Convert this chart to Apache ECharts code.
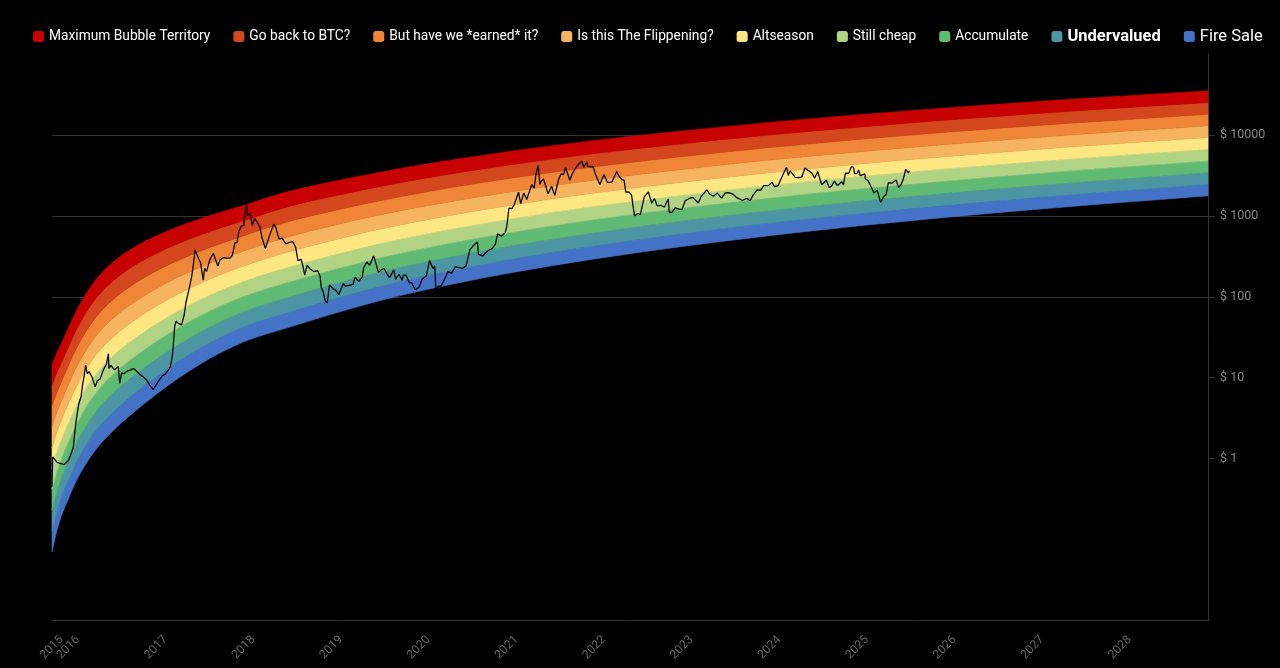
<!DOCTYPE html>
<html><head><meta charset="utf-8">
<script src="https://cdn.jsdelivr.net/npm/echarts@6/dist/echarts.min.js"></script>
<style>html,body{margin:0;padding:0;background:#000;}#chart{width:1280px;height:668px;}</style>
</head><body><div id="chart"></div>
<script>
// Legend / band names, top to bottom
const bandNames = ['Maximum Bubble Territory','Go back to BTC?','But have we *earned* it?','Is this The Flippening?','Altseason','Still cheap','Accumulate','Undervalued','Fire Sale'];
const bandColors = ['#c70000','#d4461d','#ef8537','#f6b461','#fde783','#b0d483','#5fbb74','#4b96a2','#4472c6'];

// Dates at which the band boundaries were read
const bandDates = ['2015-10-25','2015-11-10','2015-12-01','2016-01-01','2016-02-01','2016-03-15','2016-05-01','2016-07-01','2016-10-01','2017-01-01','2017-07-01','2018-01-01','2018-07-01','2019-01-01','2019-07-01','2020-01-01','2021-01-01','2022-01-01','2023-01-01','2024-01-01','2025-01-01','2027-01-01','2029-01-01'];
// Boundary prices (USD), bottom (b0) to top (b9)
const b0 = [0.0703,0.114,0.187,0.316,0.513,0.867,1.365,2.143,3.776,6.223,14.55,27.73,41.30,60.81,86.30,116.7,193.6,293.1,417.8,568.9,748.2,1194,1766];
const b1 = [0.127,0.201,0.323,0.542,0.877,1.486,2.339,3.656,6.353,10.28,23.07,42.66,63.53,92.47,129.7,173.8,284.4,426.6,602.6,814.7,1064,1679,2460];
const b2 = [0.231,0.356,0.557,0.933,1.503,2.541,4.000,6.237,10.69,16.94,36.48,65.77,97.72,140.6,195.0,258.8,417.8,619.4,867.0,1164,1510,2360,3428];
const b3 = [0.419,0.630,0.964,1.603,2.570,4.355,6.855,10.64,17.99,27.99,57.81,101.2,150.0,213.3,293.1,385.5,613.8,901.6,1250,1667,2148,3319,4786];
const b4 = [0.759,1.112,1.663,2.754,4.406,7.447,11.72,18.16,30.27,46.24,91.62,156.0,230.7,324.3,440.6,574.1,901.6,1312,1803,2382,3055,4667,6668];
const b5 = [1.374,1.963,2.877,4.742,7.534,12.76,20.09,30.97,50.93,76.38,145.2,239.9,354.8,493.3,662.2,857.0,1327,1910,2600,3412,4345,6561,9290];
const b6 = [2.489,3.467,4.977,8.147,12.88,21.83,34.36,52.84,85.70,125.9,229.6,369.0,545.8,749.9,993.1,1276,1950,2773,3741,4887,6166,9226,12942];
const b7 = [4.508,6.124,8.590,14.00,22.08,37.41,58.88,90.16,144.2,208.0,363.9,568.9,839.5,1140,1493,1901,2864,4036,5395,6982,8770,12972,18030];
const b8 = [8.185,10.84,14.86,24.10,37.76,63.97,100.7,153.8,242.7,343.6,576.8,875.0,1288,1730,2244,2831,4207,5875,7780,10000,12474,18239,25177];
const b9 = [14.83,19.14,25.64,41.40,64.71,109.6,172.2,262.4,408.3,566.2,912.0,1349,1982,2630,3373,4217,6180,8531,11194,14289,17701,25645,35075];

// Price line (USD)
const ethPrice = [
['2015-10-25',0.45],['2015-10-28',1.05],['2015-11-05',0.98],['2015-11-15',0.90],['2015-12-01',0.87],['2015-12-15',0.84],
['2016-01-01',0.95],['2016-01-15',1.20],['2016-01-22',1.40],['2016-01-29',2.26],['2016-02-03',3.0],['2016-02-14',4.8],['2016-02-23',5.8],
['2016-03-01',8.4],['2016-03-07',10.5],['2016-03-13',14.3],['2016-03-20',11.2],['2016-03-27',11.9],['2016-04-08',10.3],['2016-04-22',7.7],
['2016-05-01',9.2],['2016-05-12',9.6],['2016-05-26',12.5],['2016-06-08',14.8],['2016-06-16',19.8],['2016-06-18',13.0],['2016-06-26',14.2],
['2016-07-12',12.5],['2016-07-27',13.8],['2016-08-02',8.5],['2016-08-10',11.5],['2016-08-20',11.2],['2016-09-01',12.0],['2016-09-15',12.4],
['2016-09-28',13.0],['2016-10-10',12.2],['2016-10-25',11.0],['2016-11-08',10.3],['2016-11-22',9.4],['2016-12-05',8.1],['2016-12-20',7.1],['2016-12-30',8.0],
['2017-01-10',9.0],['2017-01-25',10.4],['2017-02-07',11.0],['2017-02-20',12.4],['2017-03-01',13.5],['2017-03-10',19.0],['2017-03-15',29],['2017-03-19',42.7],
['2017-03-25',50],['2017-04-03',47],['2017-04-17',45],['2017-04-28',60],['2017-05-05',85],['2017-05-19',128],['2017-05-29',177],['2017-06-05',250],
['2017-06-12',380],['2017-06-19',360],['2017-06-26',300],['2017-07-05',265],['2017-07-16',160],['2017-07-22',225],['2017-07-30',205],['2017-08-13',290],
['2017-08-27',345],['2017-09-03',350],['2017-09-15',240],['2017-09-24',285],['2017-10-08',305],['2017-10-22',300],['2017-11-05',300],['2017-11-15',330],
['2017-11-25',460],['2017-12-04',470],['2017-12-12',650],['2017-12-22',750],
['2018-01-01',755],['2018-01-07',1130],['2018-01-13',1390],['2018-01-17',1010],['2018-01-27',1080],['2018-02-06',760],['2018-02-15',930],['2018-02-25',850],
['2018-03-10',720],['2018-03-18',540],['2018-04-01',395],['2018-04-08',385],['2018-04-20',590],['2018-05-06',790],['2018-05-15',710],['2018-05-28',520],
['2018-06-10',530],['2018-06-25',450],['2018-07-10',470],['2018-07-25',480],['2018-08-05',410],['2018-08-15',280],['2018-08-28',290],['2018-09-06',230],
['2018-09-12',185],['2018-09-22',245],['2018-10-05',220],['2018-10-20',205],['2018-11-05',210],['2018-11-15',180],['2018-11-20',130],['2018-11-28',115],
['2018-12-06',90],['2018-12-15',84],['2018-12-24',140],
['2019-01-01',138],['2019-01-10',125],['2019-01-20',120],['2019-02-01',107],['2019-02-07',105],['2019-02-20',145],['2019-03-01',135],['2019-03-15',138],
['2019-04-01',142],['2019-04-10',175],['2019-04-25',155],['2019-05-10',175],['2019-05-15',225],['2019-05-29',270],['2019-06-10',245],['2019-06-26',320],
['2019-07-01',290],['2019-07-16',200],['2019-07-28',215],['2019-08-08',225],['2019-08-20',195],['2019-09-01',172],['2019-09-18',215],['2019-09-26',165],
['2019-10-10',190],['2019-10-23',160],['2019-10-28',185],['2019-11-08',185],['2019-11-22',150],['2019-12-01',150],['2019-12-17',122],['2019-12-31',130],
['2020-01-14',165],['2020-02-01',182],['2020-02-14',280],['2020-02-28',225],['2020-03-07',240],['2020-03-12',110],['2020-03-20',135],['2020-04-01',135],
['2020-04-15',160],['2020-05-01',205],['2020-05-15',195],['2020-06-01',235],['2020-06-15',230],['2020-07-01',225],['2020-07-15',240],['2020-08-01',385],
['2020-08-15',430],['2020-09-01',475],['2020-09-05',335],['2020-09-23',320],['2020-10-05',350],['2020-10-20',380],['2020-11-01',395],['2020-11-15',450],
['2020-11-24',600],['2020-12-10',560],['2020-12-25',620],
['2021-01-01',730],['2021-01-10',1250],['2021-01-22',1230],['2021-02-01',1370],['2021-02-19',1960],['2021-02-28',1420],['2021-03-13',1920],['2021-03-25',1590],
['2021-04-15',2430],['2021-04-25',2200],['2021-05-03',3300],['2021-05-12',4170],['2021-05-19',2450],['2021-05-25',2700],['2021-06-03',2850],['2021-06-22',1880],
['2021-07-07',2320],['2021-07-20',1790],['2021-08-05',2820],['2021-08-15',3300],['2021-08-25',3230],['2021-09-03',3940],['2021-09-21',2760],['2021-10-01',3310],
['2021-10-21',4170],['2021-10-28',4290],['2021-11-10',4730],['2021-11-18',3990],['2021-11-30',4630],['2021-12-04',4100],['2021-12-15',4020],['2021-12-27',4040],
['2022-01-07',3200],['2022-01-15',3330],['2022-01-24',2440],['2022-02-01',2790],['2022-02-10',3250],['2022-02-24',2600],['2022-03-15',2620],['2022-04-04',3520],
['2022-04-15',3040],['2022-04-26',2810],['2022-05-05',2750],['2022-05-12',1960],['2022-05-25',1980],['2022-06-05',1800],['2022-06-13',1210],['2022-06-18',1000],
['2022-07-01',1070],['2022-07-12',1040],['2022-07-28',1720],['2022-08-14',1980],['2022-08-28',1430],['2022-09-08',1640],['2022-09-20',1330],['2022-10-05',1350],
['2022-10-20',1280],['2022-11-05',1630],['2022-11-09',1100],['2022-11-21',1110],['2022-12-05',1260],['2022-12-20',1210],
['2023-01-01',1200],['2023-01-15',1550],['2023-02-01',1640],['2023-02-15',1690],['2023-03-10',1440],['2023-03-22',1740],['2023-04-15',2100],['2023-04-26',1860],
['2023-05-12',1750],['2023-05-28',1910],['2023-06-15',1660],['2023-07-01',1920],['2023-07-14',1940],['2023-08-01',1860],['2023-08-17',1680],['2023-09-11',1550],
['2023-09-28',1650],['2023-10-12',1540],['2023-10-24',1790],['2023-11-10',2100],['2023-11-25',2080],['2023-12-08',2360],['2023-12-28',2380],
['2024-01-11',2590],['2024-01-22',2300],['2024-02-06',2370],['2024-02-20',2950],['2024-03-01',3430],['2024-03-12',3980],['2024-03-19',3160],['2024-03-27',3590],
['2024-04-17',2990],['2024-05-01',2970],['2024-05-15',3040],['2024-05-27',3890],['2024-06-15',3570],['2024-06-25',3380],['2024-07-07',2930],['2024-07-20',3520],
['2024-08-05',2420],['2024-08-15',2570],['2024-08-24',2770],['2024-09-06',2240],['2024-09-15',2320],['2024-09-27',2690],['2024-10-10',2370],['2024-10-28',2640],
['2024-11-04',2400],['2024-11-12',3370],['2024-11-26',3350],['2024-12-06',4000],['2024-12-16',3990],['2024-12-20',3330],['2024-12-31',3330],
['2025-01-06',3690],['2025-01-13',3140],['2025-01-20',3300],['2025-02-01',3300],['2025-02-03',2870],['2025-02-15',2720],['2025-03-01',2220],['2025-03-11',1920],
['2025-03-24',2080],['2025-04-08',1470],['2025-04-22',1760],['2025-05-01',1840],['2025-05-10',2580],['2025-05-25',2530],['2025-06-11',2780],['2025-06-22',2230],
['2025-07-01',2410],['2025-07-10',2770],['2025-07-15',3140],['2025-07-21',3750],['2025-07-28',3800],['2025-08-02',3400],['2025-08-05',3600]
];

// Axis ticks / labels
const xStartLabelDate = ['2015-10-25'];
const xLabelDates = ['2016-01-01','2017-01-01','2018-01-01','2019-01-01','2020-01-01','2021-01-01','2022-01-01','2023-01-01','2024-01-01','2025-01-01','2026-01-01','2027-01-01','2028-01-01'];
const yTickValues = [1,10,100,1000,10000];

const ts = s => { const p = s.split('-').map(Number); return new Date(p[0], p[1]-1, p[2]).getTime(); };
const bounds = [b0,b1,b2,b3,b4,b5,b6,b7,b8,b9];
const bandX = bandDates.map(ts);
const xMin = ts(bandDates[0]), xMax = ts(bandDates[bandDates.length - 1]);

// monotone cubic tangents (pixel space) for a smooth boundary through the points
function tangents(p) {
  const n = p.length, d = [], h = [], m = new Array(n);
  for (let i = 0; i < n - 1; i++) { h.push(p[i+1][0] - p[i][0]); d.push((p[i+1][1] - p[i][1]) / h[i]); }
  m[0] = d[0]; m[n-1] = d[n-2];
  for (let i = 1; i < n - 1; i++) m[i] = (d[i-1] * d[i] <= 0) ? 0 : (d[i-1] * h[i] + d[i] * h[i-1]) / (h[i-1] + h[i]);
  for (let i = 0; i < n - 1; i++) {
    if (d[i] === 0) { m[i] = 0; m[i+1] = 0; continue; }
    const a = m[i] / d[i], b = m[i+1] / d[i], s = a * a + b * b;
    if (s > 9) { const t = 3 / Math.sqrt(s); m[i] = t * a * d[i]; m[i+1] = t * b * d[i]; }
  }
  return m;
}
function curveForward(p, m) {
  let s = '';
  for (let i = 0; i < p.length - 1; i++) {
    const hh = (p[i+1][0] - p[i][0]) / 3;
    s += ' C' + (p[i][0] + hh) + ',' + (p[i][1] + m[i] * hh) + ' ' + (p[i+1][0] - hh) + ',' + (p[i+1][1] - m[i+1] * hh) + ' ' + p[i+1][0] + ',' + p[i+1][1];
  }
  return s;
}
function curveBackward(p, m) {
  let s = '';
  for (let i = p.length - 1; i > 0; i--) {
    const hh = (p[i][0] - p[i-1][0]) / 3;
    s += ' C' + (p[i][0] - hh) + ',' + (p[i][1] - m[i] * hh) + ' ' + (p[i-1][0] + hh) + ',' + (p[i-1][1] + m[i-1] * hh) + ' ' + p[i-1][0] + ',' + p[i-1][1];
  }
  return s;
}

const series = [];
for (let k = 1; k <= 9; k++) {
  const idx = 9 - k; // name/color index (top to bottom)
  const upper = bounds[k], lower = bounds[k - 1], col = bandColors[idx];
  series.push({
    name: bandNames[idx], type: 'custom', coordinateSystem: 'cartesian2d', silent: true,
    xAxisIndex: 0, yAxisIndex: 0,
    itemStyle: { color: col },
    encode: { x: 0, y: 1 },
    data: [[bandX[0], lower[0]]],
    renderItem: function (params, api) {
      const up = bandX.map((x, i) => api.coord([x, upper[i]]));
      const lo = bandX.map((x, i) => api.coord([x, lower[i]]));
      const mu = tangents(up), ml = tangents(lo);
      const n = up.length;
      const d = 'M' + up[0][0] + ',' + up[0][1] + curveForward(up, mu) +
        ' L' + lo[n-1][0] + ',' + lo[n-1][1] + curveBackward(lo, ml) + ' Z';
      return { type: 'path', shape: { pathData: d }, style: { fill: col, stroke: col, lineWidth: 0.6 } };
    }
  });
}
series.push({
  name: 'price', type: 'line', symbol: 'none', silent: true, z: 5,
  xAxisIndex: 0, yAxisIndex: 0,
  lineStyle: { color: '#000', width: 1.25 },
  emphasis: { disabled: true },
  data: ethPrice.map(p => [ts(p[0]), p[1]])
});

const legendData = bandNames.map(n => {
  const item = { name: n };
  if (n === 'Undervalued') item.textStyle = { fontSize: 16.5, fontWeight: 'bold' };
  if (n === 'Fire Sale') item.textStyle = { fontSize: 16.5 };
  return item;
});

const xLabelStyle = {
  hideOverlap: false, showMinLabel: true,
  formatter: v => String(new Date(v).getFullYear()),
  rotate: 45, align: 'center', verticalAlign: 'middle',
  color: '#666', fontSize: 12, fontFamily: 'Roboto', margin: 27
};

const chart = echarts.init(document.getElementById('chart'));
chart.setOption({
  backgroundColor: '#000',
  animation: false,
  legend: {
    data: legendData, left: 28, top: 23, itemGap: 23, itemWidth: 11, itemHeight: 11,
    icon: 'roundRect', selectedMode: false,
    textStyle: { color: '#fff', fontSize: 13.75, fontFamily: 'Roboto' }
  },
  grid: { left: 52, right: 72, top: 54, bottom: 47.5, containLabel: false, outerBoundsMode: 'none' },
  xAxis: [{
    type: 'value', min: xMin, max: xMax, position: 'bottom',
    axisLine: { show: true, lineStyle: { color: '#333' } },
    axisTick: { show: false },
    splitLine: { show: false },
    axisLabel: Object.assign({ customValues: xLabelDates.map(ts) }, xLabelStyle)
  }, {
    type: 'value', min: xMin, max: xMax, position: 'bottom', offset: 0,
    axisLine: { show: false },
    axisTick: { show: false },
    splitLine: { show: false },
    axisLabel: Object.assign({ customValues: xStartLabelDate.map(ts) }, xLabelStyle)
  }],
  yAxis: {
    type: 'log', logBase: 10, min: 0.01, max: 100000, position: 'right',
    axisLine: { show: true, lineStyle: { color: '#333' } },
    axisTick: { show: true, length: 7, customValues: yTickValues, lineStyle: { color: '#333' } },
    axisLabel: { customValues: yTickValues, formatter: v => '$ ' + v, color: '#888', fontSize: 12.5, fontFamily: 'Roboto', margin: 12 },
    splitLine: { show: true, lineStyle: { color: ['rgba(0,0,0,0)','rgba(0,0,0,0)','#333','#333','#333','#333','#333','rgba(0,0,0,0)'] } }
  },
  series: series
});
</script></body></html>
